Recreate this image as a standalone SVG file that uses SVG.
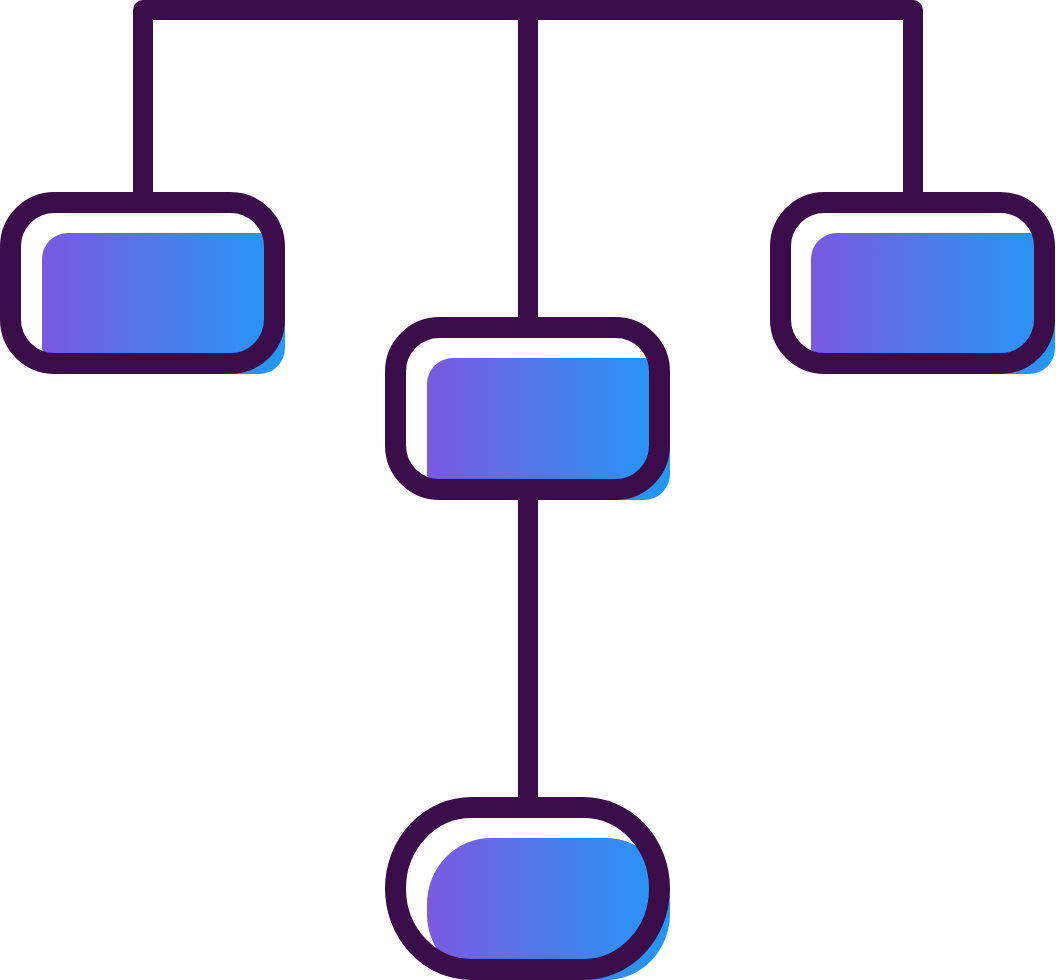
<svg xmlns="http://www.w3.org/2000/svg" width="1056" height="980" viewBox="0 0 1056 980">
  <defs>
    <linearGradient id="g" x1="0" y1="0" x2="1" y2="0">
      <stop offset="0" stop-color="#7a5ae0"/>
      <stop offset="1" stop-color="#2299f6"/>
    </linearGradient>
  </defs>
  <style>
    .fill { fill: url(#g); }
    .frame { fill: none; stroke: #3a0c4a; stroke-width: 21; }
    .line { fill: none; stroke: #3a0c4a; stroke-width: 20; stroke-linejoin: round; }
  </style>
  <rect width="1056" height="980" fill="#ffffff"/>
  <g id="connectors">
    <path class="line" d="M143,202 V10 H913 V202"/>
    <path class="line" d="M528,10 V328"/>
    <path class="line" d="M528,489 V808"/>
  </g>
  <g id="node-left">
    <rect class="fill" x="42" y="233" width="243" height="141" rx="26"/>
    <rect class="frame" x="10.5" y="202.5" width="264" height="161" rx="44"/>
  </g>
  <g id="node-middle">
    <rect class="fill" x="427" y="358" width="243" height="142" rx="26"/>
    <rect class="frame" x="395.5" y="327.5" width="264" height="162" rx="44"/>
  </g>
  <g id="node-right">
    <rect class="fill" x="811" y="233" width="244" height="141" rx="26"/>
    <rect class="frame" x="780.5" y="202.5" width="264" height="161" rx="44"/>
  </g>
  <g id="node-bottom">
    <rect class="fill" x="427" y="838" width="243" height="142" rx="64" ry="66"/>
    <rect class="frame" x="395.5" y="807.5" width="264" height="162" rx="76" ry="81"/>
  </g>
</svg>
